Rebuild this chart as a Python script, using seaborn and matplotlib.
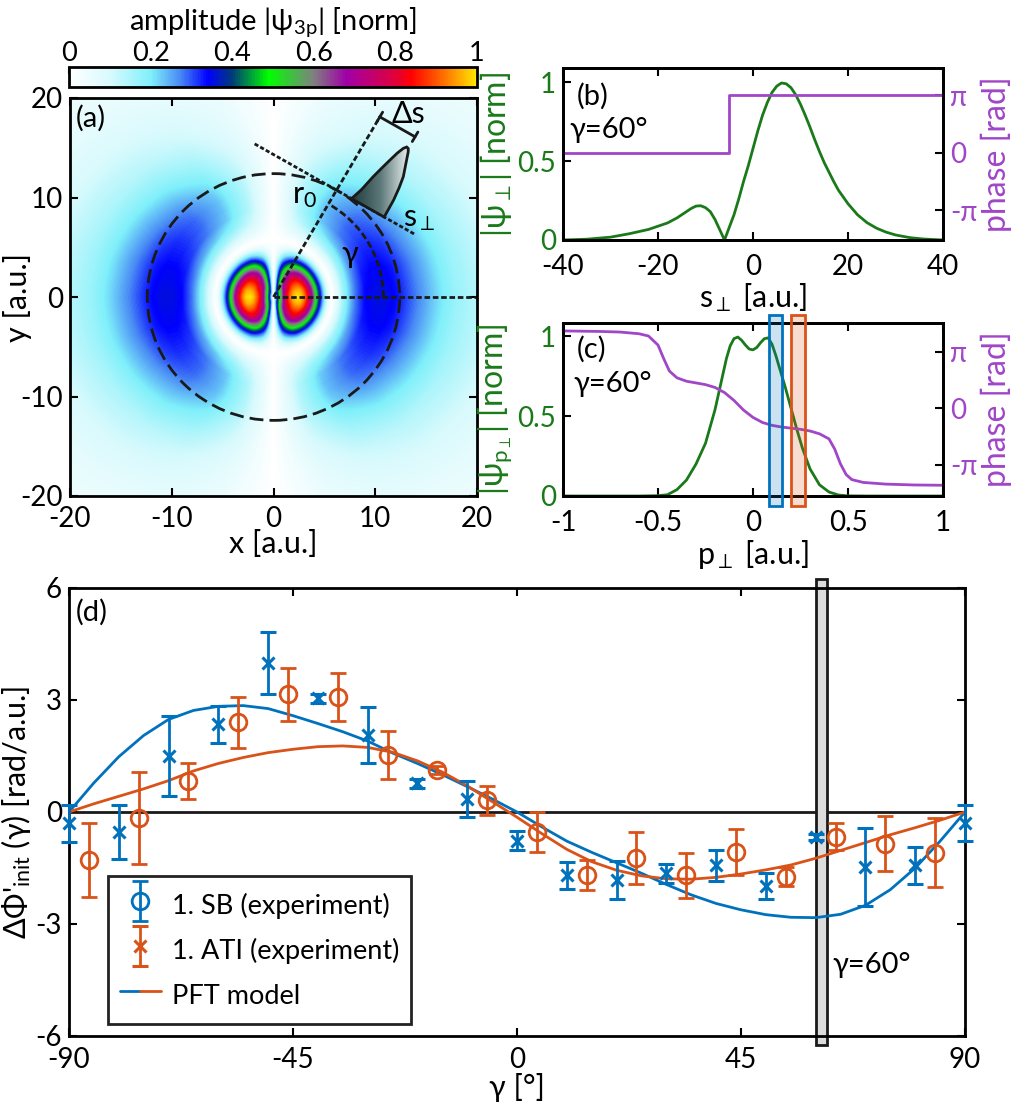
import numpy as np
import matplotlib
matplotlib.use('Agg')
import matplotlib.pyplot as plt
import seaborn as sns
from matplotlib.colors import LinearSegmentedColormap, to_rgba
from matplotlib.patches import Circle, Arc, Rectangle, Polygon
from matplotlib.legend_handler import HandlerTuple, HandlerErrorbar
from matplotlib.container import ErrorbarContainer
from matplotlib.lines import Line2D

# ---------------- data ----------------
# panel (a): |psi_3p| read as radial profile (along x axis) and angular factor
rad_r = [0, 0.3, 0.6, 1, 1.3, 1.6, 2, 2.3, 2.7, 3.0, 3.3, 3.6, 4.0, 4.4, 4.8, 5.1, 5.4,
         5.75, 6.2, 7, 8, 9, 10, 11, 12, 13, 14, 15, 16, 18, 20, 22, 25, 29]
rad_amp = [0, 0.28, 0.5, 0.7, 0.83, 0.91, 0.98, 1.0, 0.99, 0.94, 0.86, 0.76, 0.6, 0.43,
           0.27, 0.16, 0.06, 0.0, 0.07, 0.18, 0.28, 0.34, 0.355, 0.355, 0.34, 0.31, 0.28,
           0.25, 0.22, 0.17, 0.14, 0.11, 0.08, 0.05]
ang_deg = [0, 15, 30, 45, 60, 75, 85, 90]
ang_amp = [1.0, 0.97, 0.9, 0.81, 0.66, 0.4, 0.14, 0.0]
r0 = 12.4
gamma_deg = 60
# teardrop outline in local (tangent t, normal h) coordinates
drop_t = [1.7, 2.1, 2.44, 2.75, 3.03, 3.3, 3.58, 3.8, 4.0, 4.17, 4.5, 5.0, 5.2, 5.35, 5.4]
drop_h = [0.0, 1.3, 2.98, 4.2, 5.24, 6.2, 6.92, 7.2, 7.15, 6.86, 5.9, 4.46, 3.3, 1.94, 0.0]

# panel (b)
s_perp = [-40, -35, -30, -26, -22, -18, -16, -14, -13, -12, -11, -10, -9, -8, -7, -6,
          -5, -4, -3, -2, -1, 0, 1, 2, 3, 4, 5, 6, 7, 8, 9, 10, 11, 12, 13, 14, 15, 16,
          17, 18, 20, 22, 24, 26, 28, 30, 33, 36, 40]
psi_s = [0, 0.005, 0.018, 0.04, 0.067, 0.108, 0.14, 0.18, 0.2, 0.215, 0.217, 0.205,
         0.18, 0.13, 0.065, 0.0, 0.08, 0.16, 0.26, 0.37, 0.47, 0.58, 0.69, 0.79, 0.87,
         0.935, 0.975, 0.995, 0.99, 0.965, 0.92, 0.86, 0.79, 0.715, 0.635, 0.56, 0.49,
         0.43, 0.37, 0.315, 0.23, 0.16, 0.11, 0.075, 0.05, 0.032, 0.015, 0.006, 0.0]
phase_s_x = [-40, -5, -5, 40]
phase_s_pi = [0, 0, 1, 1]

# panel (c)
p_perp = [-1, -0.6, -0.5, -0.45, -0.4, -0.35, -0.3, -0.25, -0.2, -0.17, -0.14, -0.12,
          -0.1, -0.08, -0.06, -0.04, -0.02, 0.0, 0.02, 0.04, 0.06, 0.08, 0.1, 0.12,
          0.14, 0.17, 0.2, 0.23, 0.26, 0.3, 0.35, 0.4, 0.45, 0.5, 0.6, 1.0]
psi_p = [0, 0, 0.002, 0.008, 0.04, 0.1, 0.2, 0.33, 0.54, 0.7, 0.86, 0.94, 0.985, 0.995,
         0.975, 0.945, 0.92, 0.915, 0.93, 0.96, 0.985, 0.99, 0.95, 0.88, 0.8, 0.68,
         0.55, 0.42, 0.3, 0.17, 0.07, 0.025, 0.006, 0.001, 0, 0]
phase_p_x = [-1, -0.8, -0.7, -0.6, -0.55, -0.5, -0.47, -0.44, -0.4, -0.35, -0.3, -0.25,
             -0.2, -0.15, -0.1, -0.05, 0.0, 0.05, 0.1, 0.15, 0.2, 0.25, 0.3, 0.35, 0.4,
             0.43, 0.46, 0.49, 0.52, 0.58, 0.7, 0.85, 1.0]
phase_p_pi = [1.37, 1.36, 1.35, 1.32, 1.28, 1.12, 0.88, 0.66, 0.54, 0.48, 0.45, 0.42,
              0.37, 0.28, 0.14, -0.03, -0.16, -0.25, -0.3, -0.33, -0.35, -0.37, -0.4,
              -0.45, -0.54, -0.72, -0.98, -1.17, -1.26, -1.31, -1.34, -1.355, -1.36]
win_blue = [0.082, 0.15]
win_orange = [0.2, 0.274]

# panel (d)
gam_blue = [-90, -80, -70, -60, -50, -40, -30, -20, -10, 0, 10, 20, 30, 40, 50, 60, 70, 80, 90]
val_blue = [-0.3, -0.53, 1.5, 2.35, 3.98, 3.05, 2.07, 0.77, 0.35, -0.77, -1.7, -1.82,
            -1.64, -1.43, -1.98, -0.68, -1.47, -1.43, -0.3]
err_blue = [0.5, 0.72, 1.06, 0.5, 0.83, 0.12, 0.75, 0.12, 0.48, 0.25, 0.35, 0.5, 0.26,
            0.41, 0.34, 0.08, 1.05, 0.5, 0.48]
gam_orange = [-86, -76, -66, -56, -46, -36, -26, -16, -6, 4, 14, 24, 34, 44, 54, 64, 74, 84]
val_orange = [-1.29, -0.17, 0.83, 2.4, 3.16, 3.08, 1.53, 1.13, 0.31, -0.53, -1.69, -1.24,
              -1.7, -1.08, -1.73, -0.66, -0.85, -1.09]
err_orange = [1.0, 1.23, 0.49, 0.69, 0.71, 0.63, 0.65, 0.1, 0.39, 0.53, 0.4, 0.7, 0.6,
              0.62, 0.26, 0.36, 0.73, 0.92]
model_gam = [-90, -85, -80, -75, -70, -65, -60, -55, -50, -45, -40, -35, -30, -25, -20,
             -15, -10, -5, 0, 5, 10, 15, 20, 25, 30, 35, 40, 45, 50, 55, 60, 65, 70, 75,
             80, 85, 90]
model_blue = [0, 0.78, 1.48, 2.05, 2.48, 2.72, 2.83, 2.85, 2.77, 2.58, 2.37, 2.15, 1.9,
              1.58, 1.3, 1.0, 0.68, 0.35, 0.0, -0.4, -0.78, -1.08, -1.36, -1.64, -1.94,
              -2.22, -2.45, -2.62, -2.75, -2.82, -2.83, -2.74, -2.5, -2.08, -1.5, -0.78, 0]
model_orange = [0, 0.22, 0.42, 0.62, 0.84, 1.1, 1.3, 1.46, 1.59, 1.68, 1.75, 1.77,
                1.73, 1.6, 1.37, 1.07, 0.7, 0.28, -0.14, -0.58, -1.0, -1.33, -1.56,
                -1.71, -1.79, -1.8, -1.75, -1.66, -1.55, -1.42, -1.24, -1.03, -0.82,
                -0.61, -0.42, -0.22, 0]
band_gam = [60, 62.3]

# ---------------- style ----------------
sns.set_theme(style='ticks')
FS = 20
LS = 22
plt.rcParams.update({
    'font.family': ['Lato', 'DejaVu Sans'],
    'font.size': FS,
    'mathtext.fontset': 'custom',
    'mathtext.rm': 'Lato', 'mathtext.it': 'Lato:italic', 'mathtext.bf': 'Lato:bold',
    'axes.unicode_minus': False,
    'xtick.direction': 'in', 'ytick.direction': 'in',
    'xtick.major.size': 6, 'ytick.major.size': 6,
    'xtick.major.width': 1.5, 'ytick.major.width': 1.5,
    'xtick.major.pad': 5, 'ytick.major.pad': 5,
    'axes.linewidth': 2, 'axes.edgecolor': 'black',
    'xtick.color': 'black', 'ytick.color': 'black',
    'axes.labelcolor': 'black', 'text.color': 'black',
    'xtick.labelsize': FS, 'ytick.labelsize': FS, 'axes.labelsize': LS,
})

BLUE = '#0072BD'
ORANGE = '#D95319'
GREEN = '#1a7a1a'
PURPLE = '#a046c8'
W, H = 1025, 1109

def box(l, t, r, b):
    return [l / W, 1 - b / H, (r - l) / W, (b - t) / H]

fig = plt.figure(figsize=(W / 100, H / 100), dpi=100)

# ---------------- panel (a) ----------------
cmap = LinearSegmentedColormap.from_list('amp', [
    (0.0, '#ffffff'), (0.1, '#d8fafd'), (0.2, '#7ff0fa'), (0.27, '#4a8cf5'),
    (0.34, '#0000ff'), (0.4, '#003c78'), (0.49, '#00ff00'), (0.6, '#808080'),
    (0.68, '#a000a8'), (0.8, '#e0003c'), (0.84, '#ff0000'), (0.92, '#ff7000'),
    (1.0, '#ffe600')])

axa = fig.add_axes(box(70, 98, 477, 496))
xg = np.linspace(-20, 20, 401)
X, Y = np.meshgrid(xg, xg)
Rg = np.hypot(X, Y)
TH = np.degrees(np.arctan2(np.abs(Y), np.abs(X)))
amp = np.interp(Rg, rad_r, rad_amp) * np.interp(TH, ang_deg, ang_amp)
im = axa.imshow(amp, extent=[-20, 20, -20, 20], origin='lower', cmap=cmap,
                vmin=0, vmax=1, interpolation='bilinear', aspect='auto', zorder=0)

g = np.radians(gamma_deg)
nrm = np.array([np.cos(g), np.sin(g)])
tan = np.array([np.sin(g), -np.cos(g)])
P = r0 * nrm
axa.add_patch(Circle((0, 0), r0, fill=False, ec='k', lw=2, ls=(0, (5, 2.2)), zorder=2))
axa.add_patch(Arc((0, 0), 2 * 10.8, 2 * 10.8, theta1=0, theta2=gamma_deg,
                  ec='k', lw=2, ls=(0, (2.5, 1.2)), zorder=2))
axa.plot([0, 20], [0, 0], color='k', lw=2, ls=(0, (2, 1)), zorder=2)
axa.plot([0, 21.0 * nrm[0]], [0, 21.0 * nrm[1]], color='k', lw=2, ls=(0, (2, 1)), zorder=2)
tl = np.array([-9.3, 8.8])
axa.plot(P[0] + tl * tan[0], P[1] + tl * tan[1], color='k', lw=2, ls=(0, (1.5, 0.8)), zorder=2)

dt = np.array(drop_t); dh = np.array(drop_h)
dx = P[0] + dt * tan[0] + dh * nrm[0]
dy = P[1] + dt * tan[1] + dh * nrm[1]
poly = Polygon(np.c_[dx, dy], closed=True, fc='none', ec='k', lw=2, zorder=4)
axa.add_patch(poly)
gcm = LinearSegmentedColormap.from_list('drop', ['#1f3b3b', '#5d7878', '#e8f0f0'])
grad = np.linspace(0, 1, 256).reshape(1, -1)
gim = axa.imshow(grad, extent=[dx.min(), dx.max(), dy.min(), dy.max()], cmap=gcm,
                 aspect='auto', origin='lower', zorder=3, interpolation='bilinear')
gim.set_clip_path(poly)

# delta s bracket
A = 20.9 * nrm
B = A + 4.0 * tan
axa.plot([A[0], B[0]], [A[1], B[1]], color='k', lw=2, zorder=4)
for Q in (A, B):
    axa.plot([Q[0] - 0.55 * nrm[0], Q[0] + 0.55 * nrm[0]],
             [Q[1] - 0.55 * nrm[1], Q[1] + 0.55 * nrm[1]], color='k', lw=2, zorder=4)

axa.text(13.3, 18.4, 'Δs', ha='center', va='center', fontsize=22)
axa.text(14.3, 7.8, 's$_\\perp$', ha='center', va='center', fontsize=22)
axa.text(3.1, 10.2, 'r$_0$', ha='center', va='center', fontsize=22)
axa.text(7.5, 4.3, 'γ', ha='center', va='center', fontsize=22)
axa.text(-19.4, 19.3, '(a)', ha='left', va='top', fontsize=21)

axa.set_xlim(-20, 20)
axa.set_ylim(-20, 20)
axa.set_xticks([-20, -10, 0, 10, 20])
axa.set_yticks([-20, -10, 0, 10, 20])
axa.tick_params(top=True, right=True)
axa.tick_params(axis='x', pad=7)
axa.set_xlabel('x [a.u.]')
axa.set_ylabel('y [a.u.]')
axa.xaxis.set_label_coords(0.5, -0.085)
axa.yaxis.set_label_coords(-0.093, 0.5)

cax = fig.add_axes(box(69, 67, 477, 87))
cb = fig.colorbar(im, cax=cax, orientation='horizontal')
cb.set_ticks([0, 0.2, 0.4, 0.6, 0.8, 1])
cb.set_ticklabels(['0', '0.2', '0.4', '0.6', '0.8', '1'])
cax.xaxis.set_ticks_position('top')
cax.xaxis.set_label_position('top')
cax.tick_params(direction='in', length=5, width=1.5, pad=1, labelsize=19.5)
cb.set_label('amplitude |ψ$_{\\mathrm{3p}}$| [norm]', labelpad=8, fontsize=21)
cb.outline.set_linewidth(2)

# ---------------- panel (b) ----------------
axb = fig.add_axes(box(563, 68, 943, 240))
sns.lineplot(x=s_perp, y=psi_s, ax=axb, color=GREEN, lw=2, estimator=None, sort=False)
axb.set_xlim(-40, 40)
axb.set_ylim(0, 1.09)
axb.set_xticks([-40, -20, 0, 20, 40])
axb.set_yticks([0, 0.5, 1])
axb.set_yticklabels(['0', '0.5', '1'])
axb.tick_params(axis='y', labelcolor=GREEN, right=False)
axb.tick_params(axis='x', top=True, pad=10)
axb.set_xlabel('s$_\\perp$ [a.u.]')
axb.set_ylabel('|ψ$_\\perp$| [norm]', color=GREEN, fontsize=23)
axb.xaxis.set_label_coords(0.5, -0.24)
axb.yaxis.set_label_coords(-0.13, 0.5)
axb.text(0.037, 0.915, '(b)', transform=axb.transAxes, ha='left', va='top', fontsize=21)
axb.text(0.018, 0.64, 'γ=60°', transform=axb.transAxes, ha='left', va='center', fontsize=21)
axb2 = axb.twinx()
sns.lineplot(x=phase_s_x, y=np.array(phase_s_pi) * np.pi, ax=axb2, color=PURPLE, lw=2,
             estimator=None, sort=False)
axb2.set_ylim(-1.52 * np.pi, 1.47 * np.pi)
axb2.set_yticks([-np.pi, 0, np.pi])
axb2.set_yticklabels(['-π', '0', 'π'])
axb2.tick_params(axis='y', labelcolor=PURPLE)
axb2.set_ylabel('phase [rad]', color=PURPLE, fontsize=23)
axb2.yaxis.set_label_coords(1.1, 0.5)

# ---------------- panel (c) ----------------
axc = fig.add_axes(box(563, 323, 943, 496))
sns.lineplot(x=p_perp, y=psi_p, ax=axc, color=GREEN, lw=2, estimator=None, sort=False)
axc.set_xlim(-1, 1)
axc.set_ylim(0, 1.083)
axc.set_xticks([-1, -0.5, 0, 0.5, 1])
axc.set_xticklabels(['-1', '-0.5', '0', '0.5', '1'])
axc.set_yticks([0, 0.5, 1])
axc.set_yticklabels(['0', '0.5', '1'])
axc.tick_params(axis='y', labelcolor=GREEN, right=False)
axc.tick_params(axis='x', top=True, pad=10)
axc.set_xlabel('p$_\\perp$ [a.u.]')
axc.set_ylabel('|ψ$_{\\mathrm{p}_\\perp}$| [norm]', color=GREEN, fontsize=23)
axc.xaxis.set_label_coords(0.5, -0.24)
axc.yaxis.set_label_coords(-0.13, 0.5)
axc.text(0.037, 0.925, '(c)', transform=axc.transAxes, ha='left', va='top', fontsize=21)
axc.text(0.026, 0.645, 'γ=60°', transform=axc.transAxes, ha='left', va='center', fontsize=21)
axc2 = axc.twinx()
sns.lineplot(x=phase_p_x, y=np.array(phase_p_pi) * np.pi, ax=axc2, color=PURPLE, lw=2,
             estimator=None, sort=False)
axc2.set_ylim(-1.55 * np.pi, 1.51 * np.pi)
axc2.set_yticks([-np.pi, 0, np.pi])
axc2.set_yticklabels(['-π', '0', 'π'])
axc2.tick_params(axis='y', labelcolor=PURPLE)
axc2.set_ylabel('phase [rad]', color=PURPLE, fontsize=23)
axc2.yaxis.set_label_coords(1.1, 0.5)
ylo, yhi = -1.55 * np.pi, 1.51 * np.pi
for win, col in ((win_blue, BLUE), (win_orange, ORANGE)):
    axc2.add_patch(Rectangle((win[0], ylo - 0.056 * (yhi - ylo)), win[1] - win[0],
                             1.105 * (yhi - ylo), fc=to_rgba(col, 0.2), ec=col, lw=2,
                             clip_on=False, zorder=3))

# ---------------- panel (d) ----------------
axd = fig.add_axes(box(69, 588, 965, 1036))
axd.axhline(0, color='k', lw=2, zorder=1)
axd.add_patch(Rectangle((band_gam[0], -6.25), band_gam[1] - band_gam[0], 12.5,
                        fc='#dcdcdc', ec='k', lw=2, clip_on=False, zorder=1.5))
sns.lineplot(x=model_gam, y=model_blue, ax=axd, color=BLUE, lw=2, zorder=2)
sns.lineplot(x=model_gam, y=model_orange, ax=axd, color=ORANGE, lw=2, zorder=2)
axd.errorbar(gam_blue, val_blue, yerr=err_blue, fmt='x', color=BLUE, ms=9, mew=2.2,
             elinewidth=2, capsize=6, capthick=2, zorder=3, clip_on=False)
axd.errorbar(gam_orange, val_orange, yerr=err_orange, fmt='o', color=ORANGE, mfc='none',
             ms=12, mew=2, elinewidth=2, capsize=6, capthick=2, zorder=3)
axd.set_xlim(-90, 90)
axd.set_ylim(-6, 6)
axd.set_xticks([-90, -45, 0, 45, 90])
axd.set_yticks([-6, -3, 0, 3, 6])
axd.tick_params(top=True, right=True)
axd.tick_params(axis='x', pad=8)
axd.set_xlabel('γ [°]')
axd.set_ylabel("ΔΦ'$_{\\mathrm{init}}$ (γ) [rad/a.u.]")
axd.xaxis.set_label_coords(0.5, -0.083)
axd.yaxis.set_label_coords(-0.04, 0.5)
axd.text(0.007, 0.975, '(d)', transform=axd.transAxes, ha='left', va='top', fontsize=21)
axd.text(63.3, -4.1, 'γ=60°', ha='left', va='center', fontsize=21)

h1 = axd.errorbar([np.nan], [np.nan], yerr=[np.nan], fmt='o', color=BLUE, mfc='none',
                  ms=12, mew=2, elinewidth=2, capsize=6, capthick=2)
h2 = axd.errorbar([np.nan], [np.nan], yerr=[np.nan], fmt='x', color=ORANGE,
                  ms=9, mew=2.2, elinewidth=2, capsize=6, capthick=2)
h3 = (Line2D([], [], color=BLUE, lw=2), Line2D([], [], color=ORANGE, lw=2))
leg = axd.legend([h1, h2, h3], ['1. SB (experiment)', '1. ATI (experiment)', 'PFT model'],
                 loc='lower left', bbox_to_anchor=(0.0435, 0.027), frameon=True,
                 fancybox=False, framealpha=1, edgecolor='#222222', fontsize=19.5,
                 handlelength=1.5, handleheight=1.5, labelspacing=0.45,
                 handletextpad=0.4, borderpad=0.45, borderaxespad=0,
                 handler_map={ErrorbarContainer: HandlerErrorbar(yerr_size=0.75),
                              tuple: HandlerTuple(ndivide=None, pad=0)})
leg.get_frame().set_linewidth(2)

fig.savefig('out.png', dpi=100)
